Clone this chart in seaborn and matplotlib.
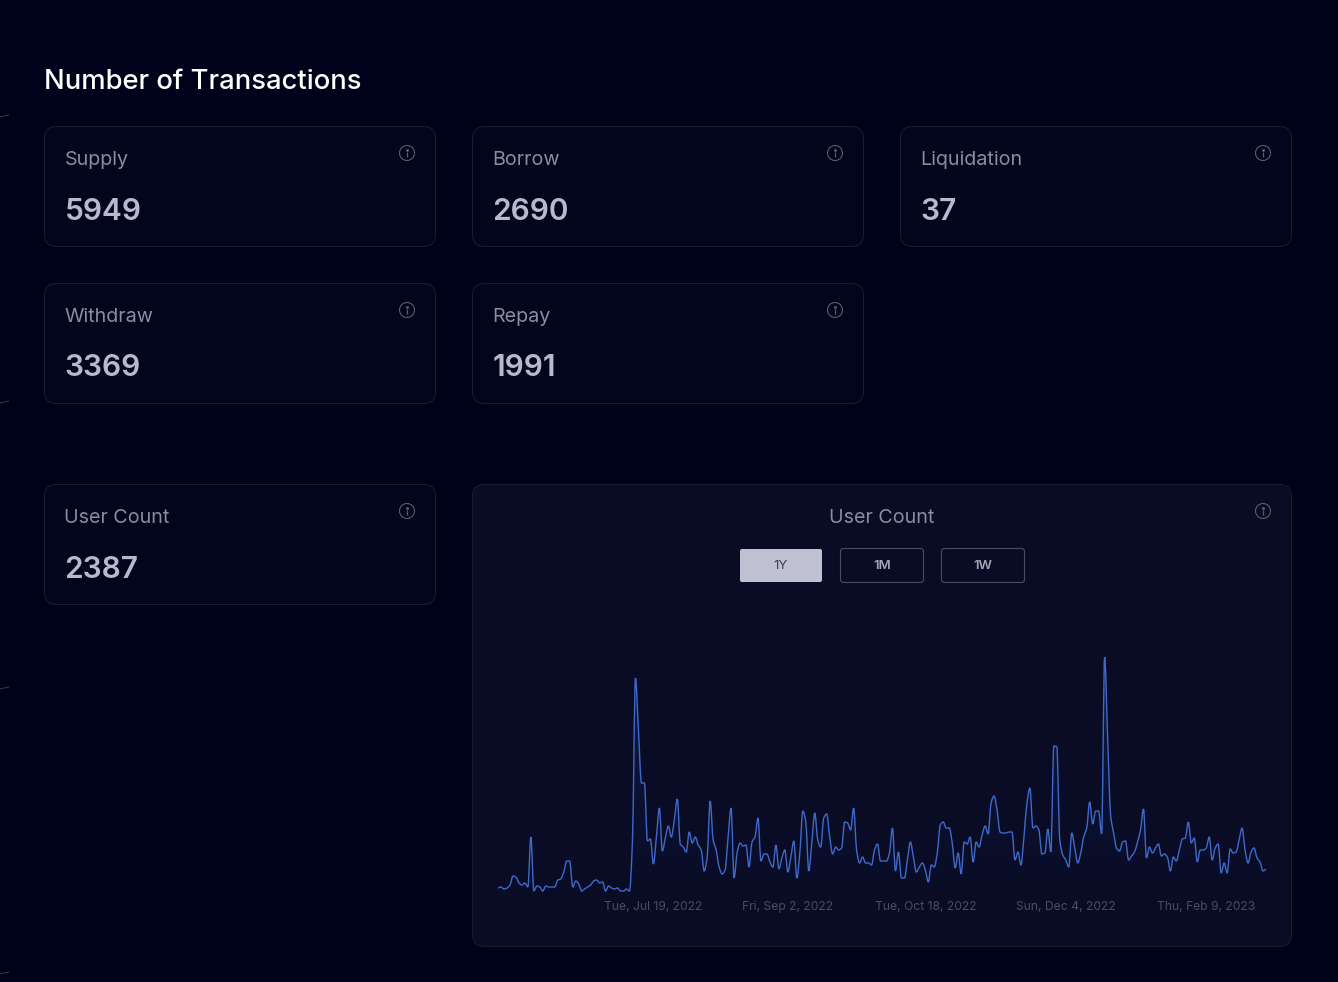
#!/usr/bin/env python3
import numpy as np
import pandas as pd
import matplotlib.pyplot as plt
import seaborn as sns
from matplotlib.patches import FancyBboxPatch, Circle, PathPatch
from matplotlib.path import Path
from matplotlib.colors import LinearSegmentedColormap

# Data
TITLE = "Number of Transactions"
CARD_NAMES = ["Supply", "Borrow", "Liquidation", "Withdraw", "Repay", "User Count"]
CARD_VALUES = [5949, 2690, 37, 3369, 1991, 2387]
RANGE_BUTTONS = ["1Y", "1M", "1W"]
TICK_LABELS = ["Tue, Jul 19, 2022", "Fri, Sep 2, 2022", "Tue, Oct 18, 2022", "Sun, Dec 4, 2022", "Thu, Feb 9, 2023"]
TICK_POINTS = [52, 97, 143, 190, 237]
user_count = [
    5, 6, 4, 5, 8, 17, 16, 10, 8, 10, 6, 56, 2, 7, 6, 2, 7, 6, 6, 6, 13, 14, 21, 32, 32, 6, 12, 9, 2, 4, 6, 8,
    12, 13, 10, 11, 2, 7, 5, 4, 5, 2, 2, 4, 2, 53, 215, 163, 110, 110, 52, 54, 29, 56, 85, 42, 55, 67, 56, 73, 94, 49,
    46, 41, 61, 50, 56, 48, 43, 22, 36, 92, 53, 43, 26, 19, 23, 56, 85, 15, 40, 50, 47, 48, 26, 51, 56, 75,
    32, 39, 39, 31, 26, 48, 24, 35, 43, 21, 36, 52, 15, 40, 82, 71, 22, 50, 80, 53, 46, 75, 79, 56, 39, 46, 43, 45,
    71, 70, 63, 85, 43, 30, 36, 30, 30, 28, 43, 49, 32, 32, 32, 40, 65, 22, 41, 15, 15, 33, 51, 36, 21, 26, 30, 23,
    11, 28, 26, 40, 68, 71, 65, 65, 50, 25, 40, 19, 51, 49, 56, 31, 51, 46, 58, 67, 59, 90, 97, 83, 61, 60, 60, 61,
    61, 33, 41, 28, 56, 90, 105, 65, 67, 63, 39, 40, 64, 41, 147, 146, 53, 38, 33, 26, 60, 45, 30, 40, 56, 65, 91, 69,
    82, 82, 59, 236, 156, 78, 60, 45, 42, 51, 52, 33, 37, 41, 51, 63, 84, 35, 46, 40, 45, 49, 37, 39, 36, 22, 36, 32,
    43, 54, 55, 71, 50, 55, 31, 43, 43, 45, 56, 33, 45, 49, 20, 30, 20, 44, 40, 41, 53, 65, 43, 30, 41, 45, 35, 31,
    22, 24,
]

# Colors
BG = "#00011a"
CARD_BG = "#03041d"
CHART_BG = "#090c24"
BORDER = "#1a1b32"
LINE = "#3f69c9"
LABEL = "#8b8c9e"
NUMBER = "#b8b9cc"
TICK = "#4b4c5c"
FONT = "Inter"

W, H = 1338, 982


def draw_info(ax, x, y):
    """Small circled i in the card corner"""
    ax.add_patch(Circle((x, y), 7.5, fill=False, ec="#5a5b6e", lw=0.8))
    ax.plot([x, x], [y - 1, y + 4], color="#5a5b6e", lw=0.9, solid_capstyle="butt")
    ax.plot([x], [y - 3.5], marker="o", ms=1.1, color="#5a5b6e")


def draw_box(ax, x0, y0, x1, y1, face, edge, radius=12, lw=0.8):
    box = FancyBboxPatch((x0 + radius, y0 + radius), x1 - x0 - 2 * radius, y1 - y0 - 2 * radius,
                         boxstyle=f"round,pad={radius},rounding_size={radius}",
                         fc=face, ec=edge, lw=lw)
    ax.add_patch(box)


def draw_card(ax, x, y, name, value):
    draw_box(ax, x, y, x + 391, y + 120, CARD_BG, BORDER)
    ax.text(x + 20, y + 33.5, name, color=LABEL, fontsize=14.2, family=FONT, va="center")
    ax.text(x + 20, y + 85, str(value), color=NUMBER, fontsize=21.5, family=FONT, weight="semibold", va="center")
    draw_info(ax, x + 362.5, y + 26.5)


def draw_layout(ax):
    ax.text(44.5, 82, TITLE, color="white", fontsize=19.7, family=FONT, weight="medium", va="center")

    card_xy = [(44.5, 126.5), (472.5, 126.5), (900.5, 126.5), (44.5, 283.5), (472.5, 283.5), (44.5, 484.5)]
    for (x, y), name, value in zip(card_xy, CARD_NAMES, CARD_VALUES):
        draw_card(ax, x, y, name, value)

    # chart panel
    draw_box(ax, 472.5, 484.5, 1291.5, 946.5, CHART_BG, BORDER)
    ax.text(882, 518, "User Count", color=LABEL, fontsize=14.2, family=FONT, ha="center", va="center")
    draw_info(ax, 1263, 511)

    button_xs = [(740, 822), (840.5, 923.5), (941.5, 1024.5)]
    for i, ((x0, x1), label) in enumerate(zip(button_xs, RANGE_BUTTONS)):
        if i == 0:
            draw_box(ax, x0, 549, x1, 582, "#bfc0d1", "#bfc0d1", radius=2, lw=0)
            ax.text((x0 + x1) / 2, 566, label, color="#3c3e58", fontsize=9.5, family=FONT, ha="center", va="center")
        else:
            draw_box(ax, x0, 548.5, x1, 582.5, CHART_BG, "#4a4b5e", radius=3)
            ax.text((x0 + x1) / 2, 566, label, color="#a5a6b8", fontsize=9.5, family=FONT, weight="semibold",
                    ha="center", va="center")

    # faint bits of background art on the left edge
    for y in [116, 402, 688, 973]:
        ax.plot([0, 9], [y + 1, y - 1], color="#3a3b4c", lw=0.7)


def monotone_path(x, y):
    """Bezier path through the points with monotone tangents, like the web chart's curve"""
    slope = np.diff(y) / np.diff(x)
    tangent = np.zeros(len(y))
    same = slope[:-1] * slope[1:] > 0
    tangent[1:-1][same] = 2 * slope[:-1][same] * slope[1:][same] / (slope[:-1][same] + slope[1:][same])
    tangent[0], tangent[-1] = slope[0], slope[-1]
    step = np.diff(x) / 3
    verts, codes = [(x[0], y[0])], [Path.MOVETO]
    for i in range(len(x) - 1):
        verts += [(x[i] + step[i], y[i] + tangent[i] * step[i]),
                  (x[i + 1] - step[i], y[i + 1] - tangent[i + 1] * step[i]),
                  (x[i + 1], y[i + 1])]
        codes += [Path.CURVE4] * 3
    return Path(verts, codes)


def draw_chart(ax, df):
    sns.lineplot(data=df, x="point", y="users", color=LINE, linewidth=1.0, ax=ax, zorder=3)

    # swap the straight segments of the seaborn line for the smooth curve
    line = ax.lines[0]
    xy = line.get_xydata()
    line.set_visible(False)
    ax.add_patch(PathPatch(monotone_path(xy[:, 0], xy[:, 1]), fill=False, ec=LINE, lw=1.0, zorder=3))

    # gradient fill under the line, clipped to the area
    fill = ax.fill_between(df["point"], df["users"], 0, color="none")
    cmap = LinearSegmentedColormap.from_list("fade", [CHART_BG, "#111a4a"])
    grad = np.linspace(0, 1, 256).reshape(-1, 1)
    img = ax.imshow(grad, extent=[0, len(df) - 1, 0, 253], origin="lower", aspect="auto",
                    cmap=cmap, zorder=1)
    img.set_clip_path(fill.get_paths()[0], transform=ax.transData)

    ax.set_xlim(0, len(df) - 1)
    ax.set_ylim(0, 253)
    ax.set_xticks(TICK_POINTS)
    ax.set_xticklabels(TICK_LABELS, color=TICK, fontsize=8.75, family=FONT)
    ax.set_yticks([])
    ax.tick_params(axis="x", length=0, pad=6)
    ax.set_xlabel("")
    ax.set_ylabel("")
    ax.patch.set_alpha(0)
    sns.despine(ax=ax, left=True, bottom=True)


def main():
    sns.set_theme(style="dark", rc={"figure.facecolor": BG, "axes.facecolor": BG})
    plt.rcParams["font.family"] = [FONT, "DejaVu Sans"]

    fig = plt.figure(figsize=(W / 100, H / 100), dpi=100)

    bg_ax = fig.add_axes([0, 0, 1, 1])
    bg_ax.set_xlim(0, W)
    bg_ax.set_ylim(H, 0)
    bg_ax.axis("off")
    draw_layout(bg_ax)

    df = pd.DataFrame({"point": np.arange(len(user_count)), "users": user_count})
    ax = fig.add_axes([498 / W, 1 - 893 / H, 768 / W, 253 / H])
    draw_chart(ax, df)

    fig.savefig("out.png", dpi=100, facecolor=BG)
    plt.close(fig)


if __name__ == "__main__":
    main()
